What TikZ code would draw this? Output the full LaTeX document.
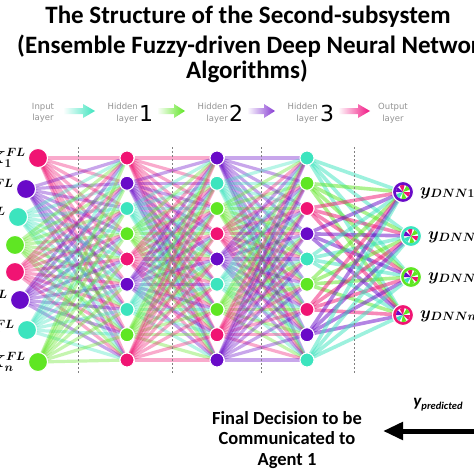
\documentclass[tikz,border=0pt]{standalone}
\usepackage{fontspec}
\setmainfont{Carlito}
\newfontfamily\legfont{DejaVu Sans}
\usepackage{bm}
\usetikzlibrary{arrows.meta}
\pgfdeclarelayer{back}
\pgfdeclarelayer{bg}
\pgfsetlayers{back,bg,main}
\definecolor{pk}{RGB}{240,20,115}
\definecolor{pu}{RGB}{105,10,200}
\definecolor{cy}{RGB}{60,228,190}
\definecolor{gr}{RGB}{95,230,35}
\colorlet{lc0}{pk}
\colorlet{lc1}{pu}
\colorlet{lc2}{cy}
\colorlet{lc3}{gr}
\tikzset{
  neuron/.style={circle, draw=white, line width=1pt, inner sep=0pt, minimum size=14pt},
  inneuron/.style={neuron, minimum size=19pt},
  outneuron/.style={neuron, minimum size=21pt},
  link/.style={line width=3.2pt, opacity=0.36},
  outlink/.style={line width=3.6pt, opacity=0.5},
  sepline/.style={gray, line width=0.6pt, dash pattern=on 1.5pt off 2.5pt},
  legtxt/.style={font=\legfont\fontsize{8.5}{11.5}\selectfont, text=gray!85, align=center, inner sep=0pt},
  legnum/.style={font=\legfont\fontsize{22}{22}\selectfont, inner sep=0pt},
  titletxt/.style={font=\bfseries\fontsize{25}{26}\selectfont, inner sep=0pt, anchor=base},
  xlab/.style={font=\fontsize{17}{17}\selectfont, inner sep=1pt, anchor=east},
  ylab/.style={font=\fontsize{17}{17}\selectfont, inner sep=0pt, anchor=west},
  finaltxt/.style={font=\bfseries\fontsize{18.5}{20.5}\selectfont, align=center, inner sep=0pt},
}
\begin{document}
\begin{tikzpicture}[x=1pt,y=-1pt]
\useasboundingbox (0,0) rectangle (474,474);
\begin{pgfonlayer}{back}
\fill[white] (0,0) rectangle (474,474);
\end{pgfonlayer}

% title
\node[titletxt] (t1) at (248,23) {The Structure of the Second-subsystem};
\node[titletxt, anchor=base west] (t2) at (17,53) {(Ensemble Fuzzy-driven Deep Neural Network};
\node[titletxt] (t3) at (247,78) {Algorithms)};

% legend
\node[legtxt] (lin) at (43,113) {Input\\layer};
\shade[left color=white, right color=cy] (63,108) -- (83,108) -- (83,104) -- (95,111) -- (83,118) -- (83,114) -- (63,114) -- cycle;
\node[legtxt, align=right, anchor=east] (lh1) at (138,113) {Hidden\\layer};
\node[legnum] (n1) at (146,113) {1};
\shade[left color=white, right color=gr] (157,108) -- (174,108) -- (174,104) -- (185,111) -- (174,118) -- (174,114) -- (157,114) -- cycle;
\node[legtxt, align=right, anchor=east] (lh2) at (228,113) {Hidden\\layer};
\node[legnum] (n2) at (236,113) {2};
\shade[left color=white, right color=pu!80] (247,108) -- (264,108) -- (264,104) -- (275,111) -- (264,118) -- (264,114) -- (247,114) -- cycle;
\node[legtxt, align=right, anchor=east] (lh3) at (318,113) {Hidden\\layer};
\node[legnum] (n3) at (327,113) {3};
\shade[left color=white, right color=pk!90!magenta] (338,108) -- (358,108) -- (358,104) -- (370,111) -- (358,118) -- (358,114) -- (338,114) -- cycle;
\node[legtxt] (lout) at (393,113) {Output\\layer};

% input neurons
\foreach \x/\y [count=\i] in {38/158,26/189,18/217,15/245,15/272,20/300,27/330,38/362}{
  \pgfmathtruncatemacro\k{mod(\i-1,4)}
  \node[inneuron, fill=lc\k] (i\i) at (\x,\y) {};
}
% hidden neurons
\foreach \L/\X/\off in {a/127/0, b/217/1, c/307/2}{
  \foreach \j in {1,...,9}{
    \pgfmathtruncatemacro\k{mod(\j-1+\off,4)}
    \node[neuron, fill=lc\k] (\L\j) at (\X,{158+25.25*(\j-1)}) {};
  }
}
% output neurons
\foreach \x/\y/\c [count=\i] in {403/192/pu, 411/236/cy, 411/277/gr, 403/315/pk}{
  \node[outneuron, fill=\c] (o\i) at (\x,\y) {};
}
\foreach \i in {1,...,4}{
  \fill[white] (o\i.center) circle (7);
  \foreach \a/\c in {0/pk, 60/gr, 120/cy, 180/pu, 240/pk, 300/gr}{
    \fill[\c] (o\i.center) -- ++(\a:7) arc[start angle=\a, end angle=\a+42, radius=7] -- cycle;
  }
}

% input labels
\node[xlab] (x1) at ([xshift=-1pt]i1.west) {$\bm{X_1^{FL}}$};
\node[xlab] (x2) at ([xshift=-1pt]i2.west) {$\bm{X_2^{FL}}$};
\node[xlab] (x3) at ([xshift=-1pt]i3.west) {$\bm{X_3^{FL}}$};
\node[xlab] (x6) at ([xshift=-1pt]i6.west) {$\bm{X_6^{FL}}$};
\node[xlab] (x7) at ([xshift=-1pt]i7.west) {$\bm{X_7^{FL}}$};
\node[xlab] (x8) at ([xshift=-1pt]i8.west) {$\bm{X_n^{FL}}$};

% output labels
\node[ylab] (y1) at (420,193) {$\bm{y}_{\bm{DNN1}}$};
\node[ylab] (y2) at (428,237) {$\bm{y}_{\bm{DNN2}}$};
\node[ylab] (y3) at (428,278) {$\bm{y}_{\bm{DNN3}}$};
\node[ylab] (y4) at (420,316) {$\bm{y}_{\bm{DNNn}}$};

% connections
\begin{pgfonlayer}{bg}
\foreach \i in {1,...,8}{
  \pgfmathtruncatemacro\k{mod(\i-1,4)}
  \foreach \j in {1,...,9}{ \draw[link, lc\k] (i\i) -- (a\j); }
}
\foreach \S/\T/\off in {a/b/0, b/c/1}{
  \foreach \i in {1,...,9}{
    \pgfmathtruncatemacro\k{mod(\i-1+\off,4)}
    \foreach \j in {1,...,9}{ \draw[link, lc\k] (\S\i) -- (\T\j); }
  }
}
\foreach \i in {1,...,9}{
  \pgfmathtruncatemacro\k{mod(\i+1,4)}
  \foreach \j in {1,...,4}{ \draw[outlink, lc\k] (c\i) -- (o\j); }
}
\end{pgfonlayer}

% separators
\foreach \x in {78,172,261,354}{ \draw[sepline] (\x,147) -- (\x,375); }

% bottom
\node[finaltxt] (final) at (287,440) {Final Decision to be\\Communicated to\\Agent 1};
\coordinate (arrS) at (480,431);
\coordinate (arrE) at (383,431);
\draw[line width=5pt, -{Triangle[length=20pt,width=17pt]}] (arrS) -- (arrE);
\node[inner sep=0pt] (ypred) at (438,405) {\bfseries\itshape\fontsize{17}{17}\selectfont y\raisebox{-3pt}{\fontsize{10.5}{10.5}\selectfont predicted}};
\end{tikzpicture}
\end{document}
